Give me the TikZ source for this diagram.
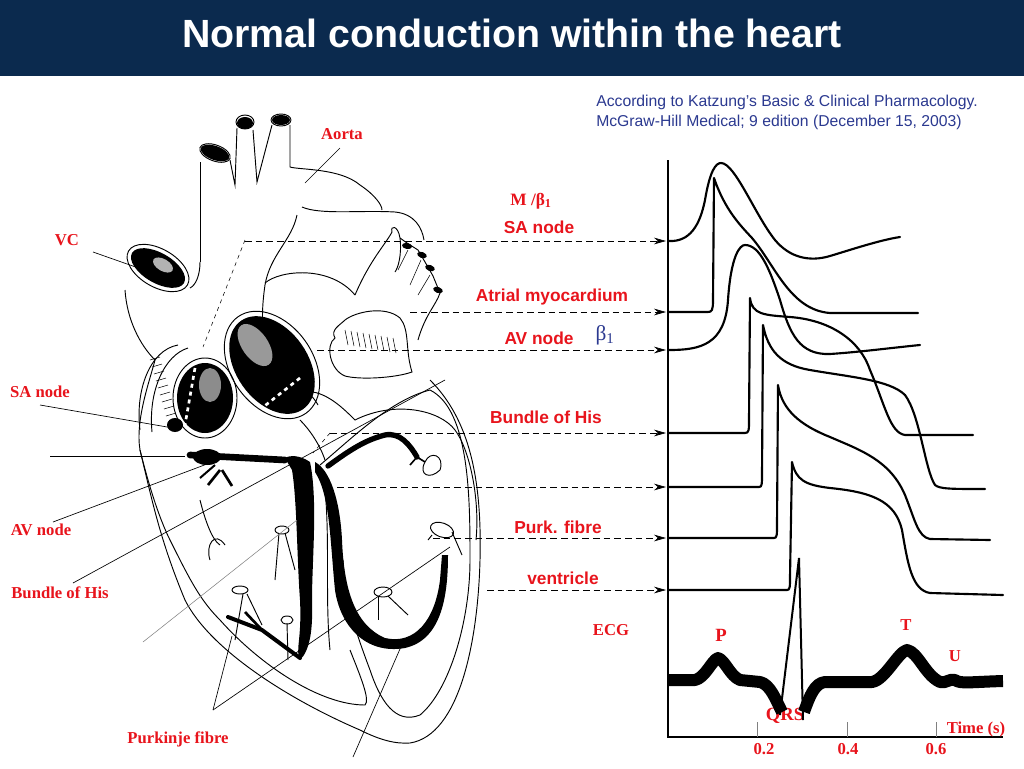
\documentclass[tikz,border=0pt]{standalone}
\usepackage{fontspec}
\setmainfont{Liberation Serif}
\setsansfont{Liberation Sans}
\usetikzlibrary{arrows.meta}
\definecolor{navy}{HTML}{0B2A4E}
\definecolor{lred}{HTML}{E8141C}
\definecolor{refblue}{HTML}{2B3990}
\begin{document}
\begin{tikzpicture}[x=0.75pt,y=-0.75pt,
  hl/.style={line width=1.6pt,line cap=round,line join=round},
  ol/.style={line width=0.7pt},
  thin/.style={line width=0.4pt},
  lead/.style={line width=0.5pt},
  dashar/.style={dashed,dash pattern=on 5pt off 3pt,line width=0.5pt,-{Stealth[length=9pt,width=5pt]}},
  slab/.style={text=lred,font=\sffamily\bfseries\fontsize{13}{15}\selectfont,inner sep=0pt},
  rlab/.style={text=lred,font=\rmfamily\bfseries\fontsize{12.5}{14}\selectfont,inner sep=0pt},
  cond/.style={fill=black}]
\useasboundingbox (0,0) rectangle (1024,768);
\fill[white] (0,0) rectangle (1024,768);
\fill[navy] (0,0) rectangle (1024,76);
\node[text=white,font=\sffamily\bfseries\fontsize{29.5}{33}\selectfont] (title) at (512,33) {Normal conduction within the heart};
\node[text=refblue,font=\sffamily\fontsize{11.8}{14}\selectfont,anchor=west,inner sep=0pt] (ref1) at (596,102) {According to Katzung's Basic \& Clinical Pharmacology.};
\node[text=refblue,font=\sffamily\fontsize{11.8}{14}\selectfont,anchor=west,inner sep=0pt] (ref2) at (596,122) {McGraw-Hill Medical; 9 edition (December 15, 2003)};

% ---------- heart drawing ----------
\draw[ol] (200,262) -- (200,162);
\draw[ol] (230,160) -- (235,185) -- (237,128);
\draw[ol] (253,130) -- (257,182) -- (272,125);
\draw[ol] (290,125) -- (290,167) .. controls (300,170) and (340,168) .. (360,185) .. controls (375,195) and (382,205) .. (382,210);
\fill (215,153) ellipse [x radius=15,y radius=7,rotate=-20];
\draw[ol] (215,153) ellipse [x radius=16,y radius=8,rotate=-20];
\fill (245,123) ellipse [x radius=8,y radius=6];
\draw[ol] (245,122) ellipse [x radius=9,y radius=7];
\fill (281,120) ellipse [x radius=9,y radius=5];
\draw[ol] (281,120) ellipse [x radius=10,y radius=6];
\draw[ol] (302,207) .. controls (320,215) and (360,210) .. (395,212) .. controls (415,214) and (422,228) .. (424,240);
\draw[ol] (297,215) .. controls (292,240) and (270,255) .. (265,285) .. controls (260,320) and (262,345) .. (275,362) .. controls (290,380) and (310,390) .. (318,405);
% VC
\fill (158,268) ellipse [x radius=30,y radius=15,rotate=-30];
\draw[ol] (158,268) ellipse [x radius=34,y radius=19,rotate=-30];
\fill[white!70!black] (163,265) ellipse [x radius=11,y radius=6,rotate=-30];
\draw[ol] (200,262) .. controls (200,275) and (196,285) .. (190,288);
\draw[ol] (125,290) .. controls (127,320) and (140,345) .. (155,360);
% left atrium / appendage fingers
\draw[ol] (355,295) .. controls (370,260) and (385,245) .. (392,232) .. controls (390,225) and (398,225) .. (400,238) .. controls (402,255) and (398,268) .. (395,272);
\draw[ol] (265,283) .. controls (280,270) and (330,265) .. (355,295);
\foreach \p/\a in {{(407,246)/-10},{(422,255)/-20},{(430,268)/-20},{(438,290)/-20}}{
  \fill \p ellipse [x radius=5,y radius=3,rotate=\a];}
\draw[ol] (400,238) -- (407,243) -- (418,250) -- (425,262) -- (433,276) -- (440,293) .. controls (436,305) and (425,315) .. (418,340);
\draw[thin] (408,250) -- (398,270);\draw[thin] (421,260) -- (410,285);\draw[thin] (430,275) -- (418,295);
% pulmonary trunk blob
\draw[ol] (345,320) .. controls (355,312) and (385,305) .. (400,318) .. controls (410,330) and (405,350) .. (412,372) .. controls (395,378) and (360,380) .. (345,376) .. controls (330,370) and (325,345) .. (335,338) .. controls (330,330) and (340,325) .. (345,320);
\foreach \i in {0,...,8}{\draw[thin] (345+\i*6,330+\i) -- (348+\i*6,345+\i);}
% large black atrium
\fill[rotate around={35:(272,365)}] (272,365) ellipse [x radius=36,y radius=54];
\fill[white!60!black,rotate around={35:(255,345)}] (255,345) ellipse [x radius=13,y radius=24];
\draw[ol,rotate around={35:(272,365)}] (272,365) ellipse [x radius=41,y radius=59];
\draw[white,line width=2pt,dashed] (300,378) -- (262,408);
% right atrium black chamber
\draw[ol] (178,345) .. controls (150,350) and (135,390) .. (140,430);
\draw[ol] (188,348) .. controls (165,355) and (148,390) .. (152,432);
\foreach \i in {0,...,9}{\draw[thin] (150+\i*2,360+\i*7) -- ++(10,-3);}
\fill (205,398) ellipse [x radius=28,y radius=35];
\fill[white!55!black] (210,385) ellipse [x radius=11,y radius=17];
\draw[ol] (205,398) ellipse [x radius=32,y radius=40];
\draw[white,line width=2pt,dashed] (195,368) -- (185,425);
\fill (175,425) ellipse [x radius=8,y radius=7];
% outer heart wall
\draw[ol] (155,360) .. controls (150,380) and (135,420) .. (140,450) .. controls (150,490) and (160,520) .. (170,540) .. controls (190,580) and (200,600) .. (220,620) .. controls (260,665) and (320,705) .. (365,705) .. controls (370,700) and (362,680) .. (350,650);
\draw[ol] (140,450) .. controls (152,500) and (160,540) .. (185,600) .. controls (210,650) and (290,700) .. (360,730) .. controls (380,740) and (395,744) .. (410,743) .. controls (460,735) and (478,640) .. (480,560) .. controls (482,480) and (470,420) .. (430,380);
\draw[ol] (320,465) .. controls (350,440) and (390,400) .. (430,390) .. controls (470,410) and (470,500) .. (470,560) .. controls (470,620) and (450,690) .. (420,715) .. controls (395,725) and (380,700) .. (370,670) .. controls (355,630) and (345,600) .. (343,560);
\draw[ol] (313,392) .. controls (330,395) and (345,410) .. (355,420) .. controls (395,400) and (440,410) .. (455,430) .. controls (470,450) and (480,500) .. (476,540);
\draw[ol] (300,420) .. controls (310,430) and (320,445) .. (325,460);
\draw[ol] (300,480) .. controls (305,520) and (300,560) .. (305,640);
\draw[ol] (325,490) .. controls (330,540) and (325,600) .. (330,650);
\draw[ol] (240,590) ellipse [x radius=8,y radius=4];
\draw[ol] (243,594) -- (235,640);\draw[ol] (247,594) -- (262,625);
\draw[ol] (282,530) ellipse [x radius=7,y radius=4];
\draw[ol] (279,533) -- (275,580);\draw[ol] (285,533) -- (295,570);
\draw[ol] (287,620) ellipse [x radius=6,y radius=4];
\draw[ol] (287,623) -- (288,660);
\draw[ol] (383,592) ellipse [x radius=9,y radius=5];
\draw[ol] (378,596) -- (378,620);\draw[ol] (388,596) -- (408,615);
\draw[ol] (442,530) ellipse [x radius=12,y radius=7,rotate=-20];
\draw[ol] (432,535) -- (428,540);\draw[ol] (452,532) -- (462,555);
\draw[ol] (425,462) .. controls (430,450) and (445,455) .. (440,470) .. controls (430,480) and (418,475) .. (425,462);
\draw[ol] (200,500) .. controls (205,520) and (212,540) .. (220,545);
\draw[ol] (210,560) .. controls (205,545) and (215,530) .. (225,545);
% conduction system (black)
\fill (207,457) ellipse [x radius=14,y radius=8];
\draw[line width=2pt] (220,470) -- (208,485);\draw[line width=2pt] (222,470) -- (232,486);\draw[line width=1.5pt] (215,465) -- (200,478);
\draw[line width=5pt,line cap=round] (190,455) -- (285,460);
\fill (285,458) .. controls (290,455) and (300,455) .. (310,462) .. controls (318,500) and (312,560) .. (312,600) .. controls (313,630) and (310,650) .. (300,660) .. controls (295,650) and (302,640) .. (300,600) .. controls (297,560) and (297,500) .. (292,470) -- cycle;
\draw[line width=3pt,line cap=round] (300,658) -- (262,630) -- (228,617);
\draw[line width=2pt] (262,630) -- (245,612);
\fill (315,462) .. controls (330,470) and (340,500) .. (342,540) .. controls (344,590) and (355,625) .. (385,638) .. controls (415,645) and (435,620) .. (440,580) -- (442,555) -- (448,555) .. controls (448,600) and (440,640) .. (405,648) .. controls (365,655) and (340,625) .. (335,590) .. controls (330,540) and (330,495) .. (315,472) -- cycle;
\draw[line width=4pt,line cap=round] (328,466) .. controls (350,450) and (365,440) .. (385,435) .. controls (400,432) and (410,445) .. (417,457);
\draw[line width=1.2pt] (417,457) -- (410,465);\draw[line width=1.2pt] (417,457) -- (425,462);
% leader lines
\draw[lead] (93,252) -- (147,271);
\draw[lead] (340,148) -- (305,183);
\draw[lead] (40,405) -- (173,428);
\draw[lead] (50,456) -- (185,456);
\draw[lead] (53,522) -- (223,458);
\draw[lead] (73,583) -- (445,380);
\draw[lead] (213,710) -- (232,636);
\draw[lead] (213,710) -- (450,547);
\draw[thin,gray] (143,642) -- (297,520);
\draw[lead] (353,757) -- (403,642);
\draw[thin,dashed] (245,240) -- (203,347);
\draw[thin,dashed] (330,433) -- (313,453);
\node[rlab] (laorta) at (342,134) {Aorta};
\node[rlab] (lvc) at (67,240) {VC};
\node[rlab] (lsa) at (40,392) {SA node};
\node[rlab] (lav) at (41,530) {AV node};
\node[rlab] (lbh) at (60,593) {Bundle of His};
\node[rlab] (lpf) at (178,739) {Purkinje fibre};

% ---------- dashed arrows ----------
\foreach \n/\xs/\y in {a/245/241,b/410/312,c/317/350,d/330/433,e/337/487,f/433/538,g/487/590}{
  \coordinate (s\n) at (\xs,\y); \coordinate (t\n) at (666,\y);
  \draw[dashar] (s\n) -- (t\n);}
\node[text=lred,font=\rmfamily\bfseries\fontsize{13}{15}\selectfont,inner sep=0pt] (mb) at (531,201) {M /β\textsubscript{1}};
\node[slab] (ls) at (539,227) {SA node};
\node[slab] (la) at (552,297) {Atrial myocardium};
\node[slab] (lavn) at (539,338) {AV node};
\node[text=refblue,font=\rmfamily\fontsize{16}{18}\selectfont,inner sep=0pt] (b1) at (605,335) {β\textsubscript{1}};
\node[slab] (lb) at (546,417) {Bundle of His};
\node[slab] (lp) at (558,527) {Purk. fibre};
\node[slab] (lvn) at (563,578) {ventricle};

% ---------- axes ----------
\coordinate (o) at (668,737);
\coordinate (ytop) at (668,160);
\coordinate (xend) at (1003,737);
\draw[line width=0.9pt] (ytop) -- (o) -- (xend);
\foreach \x in {757,847,936}{\draw[line width=0.4pt,gray] (\x,722) -- (\x,737);}
\node[rlab,font=\rmfamily\bfseries\fontsize{12.5}{14}\selectfont] (t2) at (764,749) {0.2};
\node[rlab,font=\rmfamily\bfseries\fontsize{12.5}{14}\selectfont] (t4) at (848,749) {0.4};
\node[rlab,font=\rmfamily\bfseries\fontsize{12.5}{14}\selectfont] (t6) at (936,749) {0.6};
\node[rlab] (tl) at (976,729) {Time (s)};
\node[rlab] (ecg) at (611,630) {ECG};
\node[rlab,font=\rmfamily\bfseries\fontsize{14}{16}\selectfont] (lP) at (721,635) {P};
\node[rlab] (lT) at (906,625) {T};
\node[rlab] (lU) at (955,656) {U};
\node[rlab,font=\rmfamily\bfseries\fontsize{14}{16}\selectfont] (lQ) at (785,716) {QRS};

% ---------- action potentials ----------
\draw[hl] (669,241) .. controls (690,242) and (700,225) .. (705,200) .. controls (710,170) and (716,163) .. (721,163) .. controls (735,163) and (755,215) .. (775,240) .. controls (790,258) and (810,262) .. (830,256) .. controls (850,250) and (880,240) .. (900,237);
\draw[hl] (669,312) -- (708,312) .. controls (712,312) and (713,310) .. (713,300) -- (714,178) .. controls (725,210) and (740,225) .. (752,238) .. controls (775,265) and (790,310) .. (830,313) -- (918,313);
\draw[hl] (669,350) .. controls (700,350) and (725,345) .. (728,300) .. controls (731,255) and (740,245) .. (745,245) .. controls (760,245) and (770,270) .. (780,300) .. controls (790,335) and (800,355) .. (830,354) .. controls (860,352) and (890,348) .. (920,345);
\draw[hl] (669,433) -- (745,433) .. controls (749,433) and (749,430) .. (749,420) -- (750,298) .. controls (752,315) and (765,315) .. (790,317) .. controls (830,320) and (860,340) .. (870,370) .. controls (885,405) and (890,433) .. (905,435) -- (973,435);
\draw[hl] (669,487) -- (759,487) .. controls (762,487) and (762,484) .. (762,475) -- (763,325) .. controls (768,350) and (780,365) .. (810,370) .. controls (850,377) and (890,380) .. (905,395) .. controls (920,415) and (925,470) .. (935,485) .. controls (940,489) and (950,489) .. (985,489);
\draw[hl] (669,538) -- (774,538) .. controls (777,538) and (777,535) .. (777,525) -- (778,385) .. controls (782,410) and (800,425) .. (830,437) .. controls (860,450) and (890,460) .. (905,495) .. controls (915,520) and (918,537) .. (930,539) -- (990,540);
\draw[hl] (669,590) -- (787,590) .. controls (790,590) and (790,587) .. (790,577) -- (792,462) .. controls (796,480) and (805,485) .. (830,488) .. controls (870,492) and (895,500) .. (902,530) .. controls (908,565) and (912,590) .. (930,593) -- (1003,595);
% ECG band
\draw[line width=9pt,line join=round] (668,680) -- (695,680) .. controls (705,678) and (712,660) .. (718,658) .. controls (725,660) and (730,676) .. (740,680) -- (760,682) .. controls (770,684) and (776,700) .. (782,712);
\draw[line width=9pt,line join=round] (804,712) .. controls (810,695) and (815,683) .. (825,682) -- (872,682) .. controls (885,680) and (898,652) .. (907,650) .. controls (918,652) and (925,675) .. (940,682) .. controls (945,684) and (950,678) .. (955,680) .. controls (960,684) and (970,682) .. (1003,681);
\draw[line width=1.5pt,line join=miter] (780,715) -- (799,558) -- (803,720);
\end{tikzpicture}
\end{document}
